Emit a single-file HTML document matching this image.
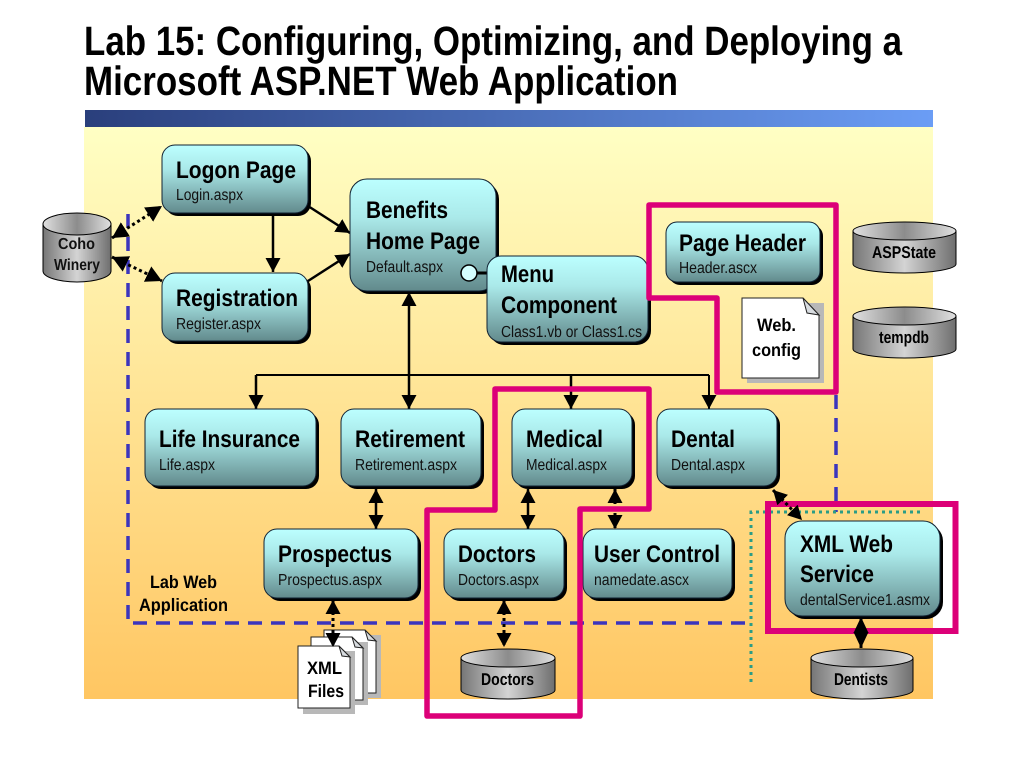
<!DOCTYPE html>
<html><head><meta charset="utf-8"><title>Lab 15</title>
<style>
html,body{margin:0;padding:0;background:#fff}
svg{display:block}
text{font-family:"Liberation Sans",sans-serif;fill:#000;text-rendering:geometricPrecision}
.t{font-size:24px;font-weight:bold}
.s{font-size:16px;fill:#111}
.c{font-size:18px;font-weight:bold}
.b{fill:url(#box);stroke:#123;stroke-width:1}
.sh{fill:#000}
.cb{fill:url(#cyl);stroke:#000;stroke-width:1}
.ct{fill:url(#cylt);stroke:#000;stroke-width:1}
.doc{fill:#fff;stroke:#222;stroke-width:1}
.ds{fill:#b8b8b8}
.fold{fill:#d8dce0;stroke:#222;stroke-width:1}
</style></head><body>
<svg width="1024" height="768" viewBox="0 0 1024 768" xmlns="http://www.w3.org/2000/svg">
<defs>
<linearGradient id="bg" x1="0" y1="0" x2="0" y2="1"><stop offset="0" stop-color="#ffffc4"/><stop offset="1" stop-color="#ffc662"/></linearGradient>
<linearGradient id="band" x1="0" y1="0" x2="1" y2="0"><stop offset="0" stop-color="#2a3f7c"/><stop offset="1" stop-color="#6b9df5"/></linearGradient>
<linearGradient id="box" x1="0" y1="0" x2="0" y2="1"><stop offset="0" stop-color="#bcffff"/><stop offset=".35" stop-color="#aae9e9"/><stop offset="1" stop-color="#628a8c"/></linearGradient>
<linearGradient id="cyl" x1="0" y1="0" x2="1" y2="0"><stop offset="0" stop-color="#767676"/><stop offset=".5" stop-color="#d4d4d4"/><stop offset="1" stop-color="#6e6e6e"/></linearGradient>
<linearGradient id="cylt" x1="0" y1="0" x2="1" y2="0"><stop offset="0" stop-color="#e0e0e0"/><stop offset=".5" stop-color="#8c8c8c"/><stop offset="1" stop-color="#e0e0e0"/></linearGradient>
<marker id="a" markerUnits="userSpaceOnUse" markerWidth="16" markerHeight="16" refX="14" refY="7.500" orient="auto-start-reverse"><path d="M0 0L14 7.500L0 15z" fill="#000"/></marker>
<marker id="a2" markerUnits="userSpaceOnUse" markerWidth="17" markerHeight="18" refX="16" refY="8.500" orient="auto-start-reverse"><path d="M0 0L16 8.500L0 17z" fill="#000"/></marker>
<marker id="al" markerUnits="userSpaceOnUse" markerWidth="17" markerHeight="16" refX="16" refY="7.500" orient="auto-start-reverse"><path d="M0 0L16 7.500L0 15z" fill="#000"/></marker>
</defs>

<text x="84" y="55" font-size="41" font-weight="bold" textLength="818" lengthAdjust="spacingAndGlyphs">Lab 15: Configuring, Optimizing, and Deploying a</text>
<text x="84" y="95" font-size="41" font-weight="bold" textLength="594" lengthAdjust="spacingAndGlyphs">Microsoft ASP.NET Web Application</text>

<rect x="85" y="110" width="848" height="17" fill="url(#band)"/>
<rect x="84" y="127" width="849" height="572" fill="url(#bg)"/>

<!-- dashed / dotted boundaries -->
<path d="M128 214V623H751" fill="none" stroke="#3b35bd" stroke-width="3.500" stroke-dasharray="14 9"/>
<path d="M836 395V512" fill="none" stroke="#3b35bd" stroke-width="3.500" stroke-dasharray="14 9"/>
<path d="M751 682V512H922" fill="none" stroke="#2b9c86" stroke-width="3" stroke-dasharray="3 4"/>

<!-- connectors -->
<g fill="none" stroke="#000" stroke-width="2.500">
<path d="M273 215V272" marker-end="url(#a)"/>
<path d="M308 206L350 233" marker-end="url(#a)"/>
<path d="M308 281L350 254" marker-end="url(#a)"/>
<path d="M409 292V409" marker-start="url(#a)" marker-end="url(#a)"/>
<path d="M256 375H709" stroke-width="2"/>
<path d="M256 375V409" marker-end="url(#a)"/>
<path d="M571 375V409" marker-end="url(#a)"/>
<path d="M709 375V409" stroke-width="2" marker-end="url(#a)"/>
<path d="M376 489V529" marker-start="url(#a)" marker-end="url(#a)"/>
<path d="M528 489V529" marker-start="url(#a)" marker-end="url(#a)"/>
</g>
<g fill="none" stroke="#000" stroke-width="3" stroke-dasharray="3 3">
<path d="M112 238L162 206" marker-start="url(#a2)" marker-end="url(#a2)"/>
<path d="M112 257L162 281" marker-start="url(#a2)" marker-end="url(#a2)"/>
<path d="M615 489V529" marker-start="url(#a)" marker-end="url(#a)"/>
<path d="M504 600V647" marker-start="url(#a)" marker-end="url(#a)"/>
</g>

<!-- Coho Winery -->
<path class="cb" d="M43 224V271A34 11 0 0 0 111 271V224z"/><ellipse class="ct" cx="77" cy="224" rx="34" ry="11"/>
<text class="s" style="font-weight:bold" x="58" y="249" textLength="37" lengthAdjust="spacingAndGlyphs">Coho</text>
<text class="s" style="font-weight:bold" x="54" y="270" textLength="46" lengthAdjust="spacingAndGlyphs">Winery</text>

<!-- ASPState -->
<path class="cb" d="M853 231V264A51.500 9 0 0 0 956 264V231z"/><ellipse class="ct" cx="904.500" cy="231" rx="51.500" ry="9"/>
<text class="c" style="font-size:17px" x="872" y="258" textLength="64" lengthAdjust="spacingAndGlyphs">ASPState</text>
<!-- tempdb -->
<path class="cb" d="M853 316V349A51.500 9 0 0 0 956 349V316z"/><ellipse class="ct" cx="904.500" cy="316" rx="51.500" ry="9"/>
<text class="c" style="font-size:17px" x="879" y="343" textLength="50" lengthAdjust="spacingAndGlyphs">tempdb</text>
<!-- Doctors DB -->
<path class="cb" d="M461 658V690A47 9 0 0 0 555 690V658z"/><ellipse class="ct" cx="508" cy="658" rx="47" ry="9"/>
<text class="c" style="font-size:17px" x="481" y="685" textLength="53" lengthAdjust="spacingAndGlyphs">Doctors</text>
<!-- Dentists DB -->
<path class="cb" d="M811 658V690A51 9 0 0 0 913 690V658z"/><ellipse class="ct" cx="862" cy="658" rx="51" ry="9"/>
<text class="c" style="font-size:17px" x="834" y="685" textLength="54" lengthAdjust="spacingAndGlyphs">Dentists</text>

<!-- Boxes -->
<rect class="sh" x="165" y="148" width="146" height="68" rx="13"/><rect class="b" x="162" y="145" width="146" height="68" rx="13"/>
<text class="t" x="176" y="178" textLength="120" lengthAdjust="spacingAndGlyphs">Logon Page</text>
<text class="s" x="176" y="200" textLength="67" lengthAdjust="spacingAndGlyphs">Login.aspx</text>

<rect class="sh" x="165" y="276" width="146" height="68" rx="13"/><rect class="b" x="162" y="273" width="146" height="68" rx="13"/>
<text class="t" x="176" y="306" textLength="122" lengthAdjust="spacingAndGlyphs">Registration</text>
<text class="s" x="176" y="329" textLength="85" lengthAdjust="spacingAndGlyphs">Register.aspx</text>

<rect class="sh" x="353" y="182" width="146" height="112" rx="17"/><rect class="b" x="350" y="179" width="146" height="112" rx="17"/>
<text class="t" x="366" y="218" textLength="82" lengthAdjust="spacingAndGlyphs">Benefits</text>
<text class="t" x="366" y="249" textLength="114" lengthAdjust="spacingAndGlyphs">Home Page</text>
<text class="s" x="366" y="272" textLength="77" lengthAdjust="spacingAndGlyphs">Default.aspx</text>
<path d="M477 273H488" fill="none" stroke="#000" stroke-width="3"/>
<circle cx="469" cy="273" r="8" fill="#d4ffff" stroke="#000" stroke-width="1.500"/>

<rect class="sh" x="490" y="259" width="161" height="86" rx="14"/><rect class="b" x="487" y="256" width="161" height="86" rx="14"/>
<text class="t" x="501" y="282" textLength="53" lengthAdjust="spacingAndGlyphs">Menu</text>
<text class="t" x="501" y="313" textLength="116" lengthAdjust="spacingAndGlyphs">Component</text>
<text class="s" x="501" y="337" textLength="141" lengthAdjust="spacingAndGlyphs">Class1.vb or Class1.cs</text>

<rect class="sh" x="669" y="225" width="154" height="60" rx="11"/><rect class="b" x="666" y="222" width="154" height="60" rx="11"/>
<text class="t" x="679" y="251" textLength="127" lengthAdjust="spacingAndGlyphs">Page Header</text>
<text class="s" x="679" y="273" textLength="78" lengthAdjust="spacingAndGlyphs">Header.ascx</text>

<rect class="sh" x="148" y="412" width="171" height="77" rx="13"/><rect class="b" x="145" y="409" width="171" height="77" rx="13"/>
<text class="t" x="159" y="447" textLength="141" lengthAdjust="spacingAndGlyphs">Life Insurance</text>
<text class="s" x="159" y="470" textLength="56" lengthAdjust="spacingAndGlyphs">Life.aspx</text>

<rect class="sh" x="344" y="412" width="140" height="77" rx="13"/><rect class="b" x="341" y="409" width="140" height="77" rx="13"/>
<text class="t" x="355" y="447" textLength="110" lengthAdjust="spacingAndGlyphs">Retirement</text>
<text class="s" x="355" y="470" textLength="102" lengthAdjust="spacingAndGlyphs">Retirement.aspx</text>

<rect class="sh" x="515" y="412" width="120" height="77" rx="13"/><rect class="b" x="512" y="409" width="120" height="77" rx="13"/>
<text class="t" x="526" y="447" textLength="77" lengthAdjust="spacingAndGlyphs">Medical</text>
<text class="s" x="526" y="470" textLength="81" lengthAdjust="spacingAndGlyphs">Medical.aspx</text>

<rect class="sh" x="660" y="412" width="120" height="77" rx="13"/><rect class="b" x="657" y="409" width="120" height="77" rx="13"/>
<text class="t" x="671" y="447" textLength="64" lengthAdjust="spacingAndGlyphs">Dental</text>
<text class="s" x="671" y="470" textLength="74" lengthAdjust="spacingAndGlyphs">Dental.aspx</text>

<rect class="sh" x="267" y="532" width="154" height="69" rx="13"/><rect class="b" x="264" y="529" width="154" height="69" rx="13"/>
<text class="t" x="278" y="562" textLength="114" lengthAdjust="spacingAndGlyphs">Prospectus</text>
<text class="s" x="278" y="585" textLength="104" lengthAdjust="spacingAndGlyphs">Prospectus.aspx</text>

<rect class="sh" x="447" y="532" width="120" height="69" rx="13"/><rect class="b" x="444" y="529" width="120" height="69" rx="13"/>
<text class="t" x="458" y="562" textLength="78" lengthAdjust="spacingAndGlyphs">Doctors</text>
<text class="s" x="458" y="585" textLength="81" lengthAdjust="spacingAndGlyphs">Doctors.aspx</text>

<rect class="sh" x="586" y="532" width="149" height="69" rx="13"/><rect class="b" x="583" y="529" width="149" height="69" rx="13"/>
<text class="t" x="594" y="562" textLength="126" lengthAdjust="spacingAndGlyphs">User Control</text>
<text class="s" x="594" y="585" textLength="95" lengthAdjust="spacingAndGlyphs">namedate.ascx</text>

<rect class="sh" x="788" y="524" width="155" height="95" rx="17"/><rect class="b" x="785" y="521" width="155" height="95" rx="17"/>
<text class="t" x="800" y="552" textLength="93" lengthAdjust="spacingAndGlyphs">XML Web</text>
<text class="t" x="800" y="582" textLength="74" lengthAdjust="spacingAndGlyphs">Service</text>
<text class="s" x="800" y="605" textLength="130" lengthAdjust="spacingAndGlyphs">dentalService1.asmx</text>

<!-- Web.config -->
<rect class="ds" x="747" y="303" width="77" height="80"/>
<path class="doc" d="M742 298H803L819 315V378H742z"/><path class="fold" d="M803 298L819 315L807 313z"/>
<text class="c" x="757" y="331" textLength="39" lengthAdjust="spacingAndGlyphs">Web.</text>
<text class="c" x="752" y="356" textLength="49" lengthAdjust="spacingAndGlyphs">config</text>

<!-- XML files -->
<rect class="ds" x="329" y="635" width="52" height="63"/>
<path class="doc" d="M324 630H365L376 641V693H324z"/><path class="fold" d="M365 630L376 641L368 640z"/>
<rect class="ds" x="316" y="642" width="52" height="63"/>
<path class="doc" d="M311 637H352L363 648V700H311z"/><path class="fold" d="M352 637L363 648L355 647z"/>
<rect class="ds" x="303" y="651" width="52" height="63"/>
<path class="doc" d="M298 646H339L350 657V708H298z"/><path class="fold" d="M339 646L350 657L342 656z"/>
<path d="M333 600V647" fill="none" stroke="#000" stroke-width="3" stroke-dasharray="3 3" marker-start="url(#a)" marker-end="url(#a)"/>
<text class="c" x="307" y="674" textLength="35" lengthAdjust="spacingAndGlyphs">XML</text>
<text class="c" x="308" y="697" textLength="36" lengthAdjust="spacingAndGlyphs">Files</text>

<text class="c" x="150" y="588" textLength="67" lengthAdjust="spacingAndGlyphs">Lab Web</text>
<text class="c" x="139" y="611" textLength="89" lengthAdjust="spacingAndGlyphs">Application</text>

<!-- Pink highlights -->
<g fill="none" stroke="#dc0078" stroke-linejoin="round">
<path stroke-width="5.500" d="M649 205H836V392H717V298H649z"/>
<path stroke-width="5.500" d="M495 389H649V509H580V716H427V510H495z"/>
<path stroke-width="6" stroke-linejoin="miter" d="M768 504H955.500V631H768z"/>
</g>

<!-- connectors above the highlight -->
<path d="M773 490L802 520" fill="none" stroke="#000" stroke-width="3" stroke-dasharray="3 3" marker-start="url(#a)" marker-end="url(#a)"/>
<path d="M861 617V648" fill="none" stroke="#000" stroke-width="3" marker-start="url(#al)" marker-end="url(#al)"/>
</svg>
</body></html>
